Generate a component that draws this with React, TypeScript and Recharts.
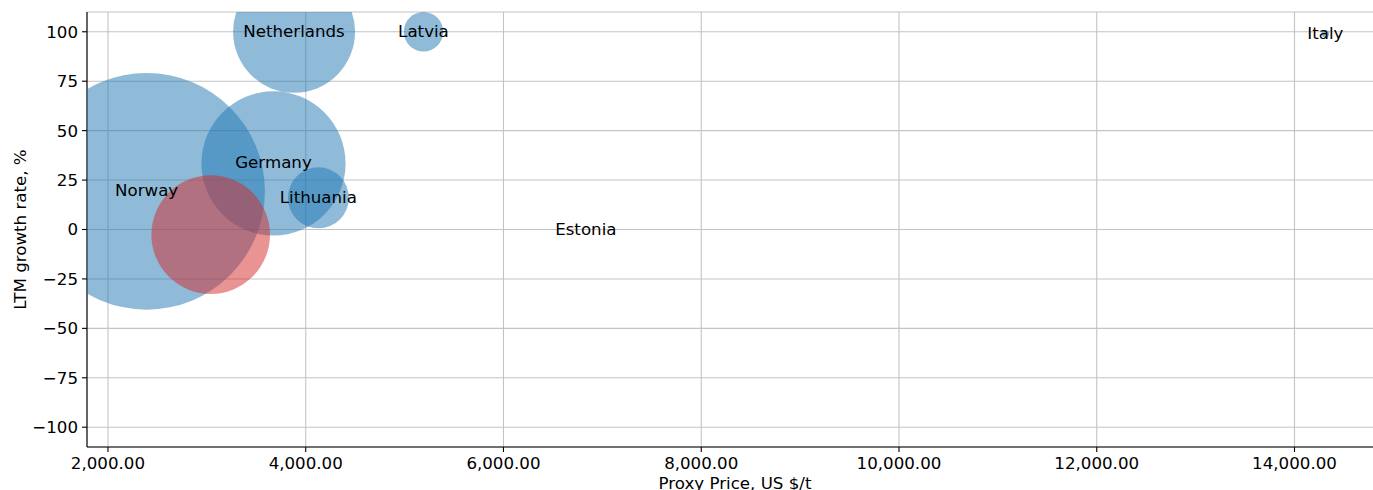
import React from 'react';
import { ScatterChart, Scatter, XAxis, YAxis, ZAxis, CartesianGrid } from 'recharts';

// Partner countries (blue bubbles)
const countries = ['Norway', 'Germany', 'Netherlands', 'Lithuania', 'Latvia', 'Italy', 'Estonia'];
const proxyPrices = [2391, 3674, 3882, 4128, 5191, 14312, 6833];
const growthRates = [19.3, 33.4, 100, 16.0, 100, 99.0, 0];
const volumes = [13995, 5198, 3721, 930, 388, 14, 0];

// Highlighted (red) bubble, unlabeled
const focusPrices = [3039];
const focusGrowth = [-2.6];
const focusVolumes = [3516];

const xTicks = [2000, 4000, 6000, 8000, 10000, 12000, 14000];
const yTicks = [-100, -75, -50, -25, 0, 25, 50, 75, 100];
const xDomain = [1788, 14895];
const yDomain = [-110, 110];
const zMax = 14000;

const partnerData = countries.map((name, i) => ({
  name,
  x: proxyPrices[i],
  y: growthRates[i],
  z: volumes[i],
}));
const focusData = focusPrices.map((x, i) => ({ name: '', x, y: focusGrowth[i], z: focusVolumes[i] }));

const FONT = 'DejaVu Sans, sans-serif';
const FS = 16.67;

const fmtX = (v: number) =>
  v.toLocaleString('en-US', { minimumFractionDigits: 2, maximumFractionDigits: 2 });
const fmtY = (v: number) => String(v).replace('-', '\u2212');

const XLabel = (props: any) => {
  const vb = props.viewBox || {};
  return (
    <text
      x={vb.x + vb.width / 2}
      y={vb.y + 42.2}
      textAnchor="middle"
      fontFamily={FONT}
      fontSize={FS}
      fill="#000"
    >
      Proxy Price, US $/t
    </text>
  );
};

const YLabel = (props: any) => {
  const vb = props.viewBox || {};
  const x = 25.5;
  const y = vb.y + vb.height / 2;
  return (
    <text
      x={x}
      y={y}
      transform={`rotate(-90, ${x}, ${y})`}
      textAnchor="middle"
      fontFamily={FONT}
      fontSize={FS}
      fill="#000"
    >
      LTM growth rate, %
    </text>
  );
};

const bubble = (color: string) => (p: any) => {
  const r = Math.sqrt(Math.max(p.size || 0, 0) / Math.PI);
  return <circle cx={p.cx} cy={p.cy} r={r} fill={color} fillOpacity={0.5} />;
};

const labelShape = (p: any) => (
  <text
    x={p.cx}
    y={p.cy}
    dy={5}
    textAnchor="middle"
    fontFamily={FONT}
    fontSize={FS}
    fill="#000"
  >
    {p.payload?.name}
  </text>
);

export default function App() {
  return (
    <div style={{ position: 'fixed', left: 0, top: 0, width: 1373, height: 490, overflow: 'hidden', background: '#fff' }}>
      <ScatterChart width={1390} height={490} margin={{ top: 12, right: 7, bottom: 0, left: 0 }}>
        <CartesianGrid stroke="#c4c4c4" strokeWidth={1.1} />
        <XAxis
          dataKey="x"
          type="number"
          domain={xDomain}
          ticks={xTicks}
          allowDataOverflow
          height={43}
          tickFormatter={fmtX}
          tick={{ fill: '#000', fontFamily: FONT, fontSize: FS }}
          tickSize={5}
          tickMargin={5}
          axisLine={{ stroke: '#000', strokeWidth: 1.1 }}
          tickLine={{ stroke: '#000', strokeWidth: 1.1 }}
          label={{ content: XLabel }}
        />
        <XAxis
          xAxisId="top"
          orientation="top"
          type="number"
          domain={xDomain}
          allowDataOverflow
          height={0}
          tick={false}
          tickLine={false}
          axisLine={{ stroke: '#000', strokeWidth: 1.1 }}
        />
        <YAxis
          dataKey="y"
          type="number"
          domain={yDomain}
          ticks={yTicks}
          allowDataOverflow
          width={87}
          tickFormatter={fmtY}
          tick={{ fill: '#000', fontFamily: FONT, fontSize: FS }}
          tickSize={5}
          tickMargin={4}
          axisLine={{ stroke: '#000', strokeWidth: 1.1 }}
          tickLine={{ stroke: '#000', strokeWidth: 1.1 }}
          label={{ content: YLabel }}
        />
        <ZAxis dataKey="z" type="number" domain={[0, zMax]} range={[0, Math.PI * zMax]} />
        <Scatter data={partnerData} shape={bubble('#1f77b4')} isAnimationActive={false} />
        <Scatter data={focusData} shape={bubble('#d62728')} isAnimationActive={false} />
        <Scatter data={partnerData} shape={labelShape} isAnimationActive={false} />
      </ScatterChart>
    </div>
  );
}
